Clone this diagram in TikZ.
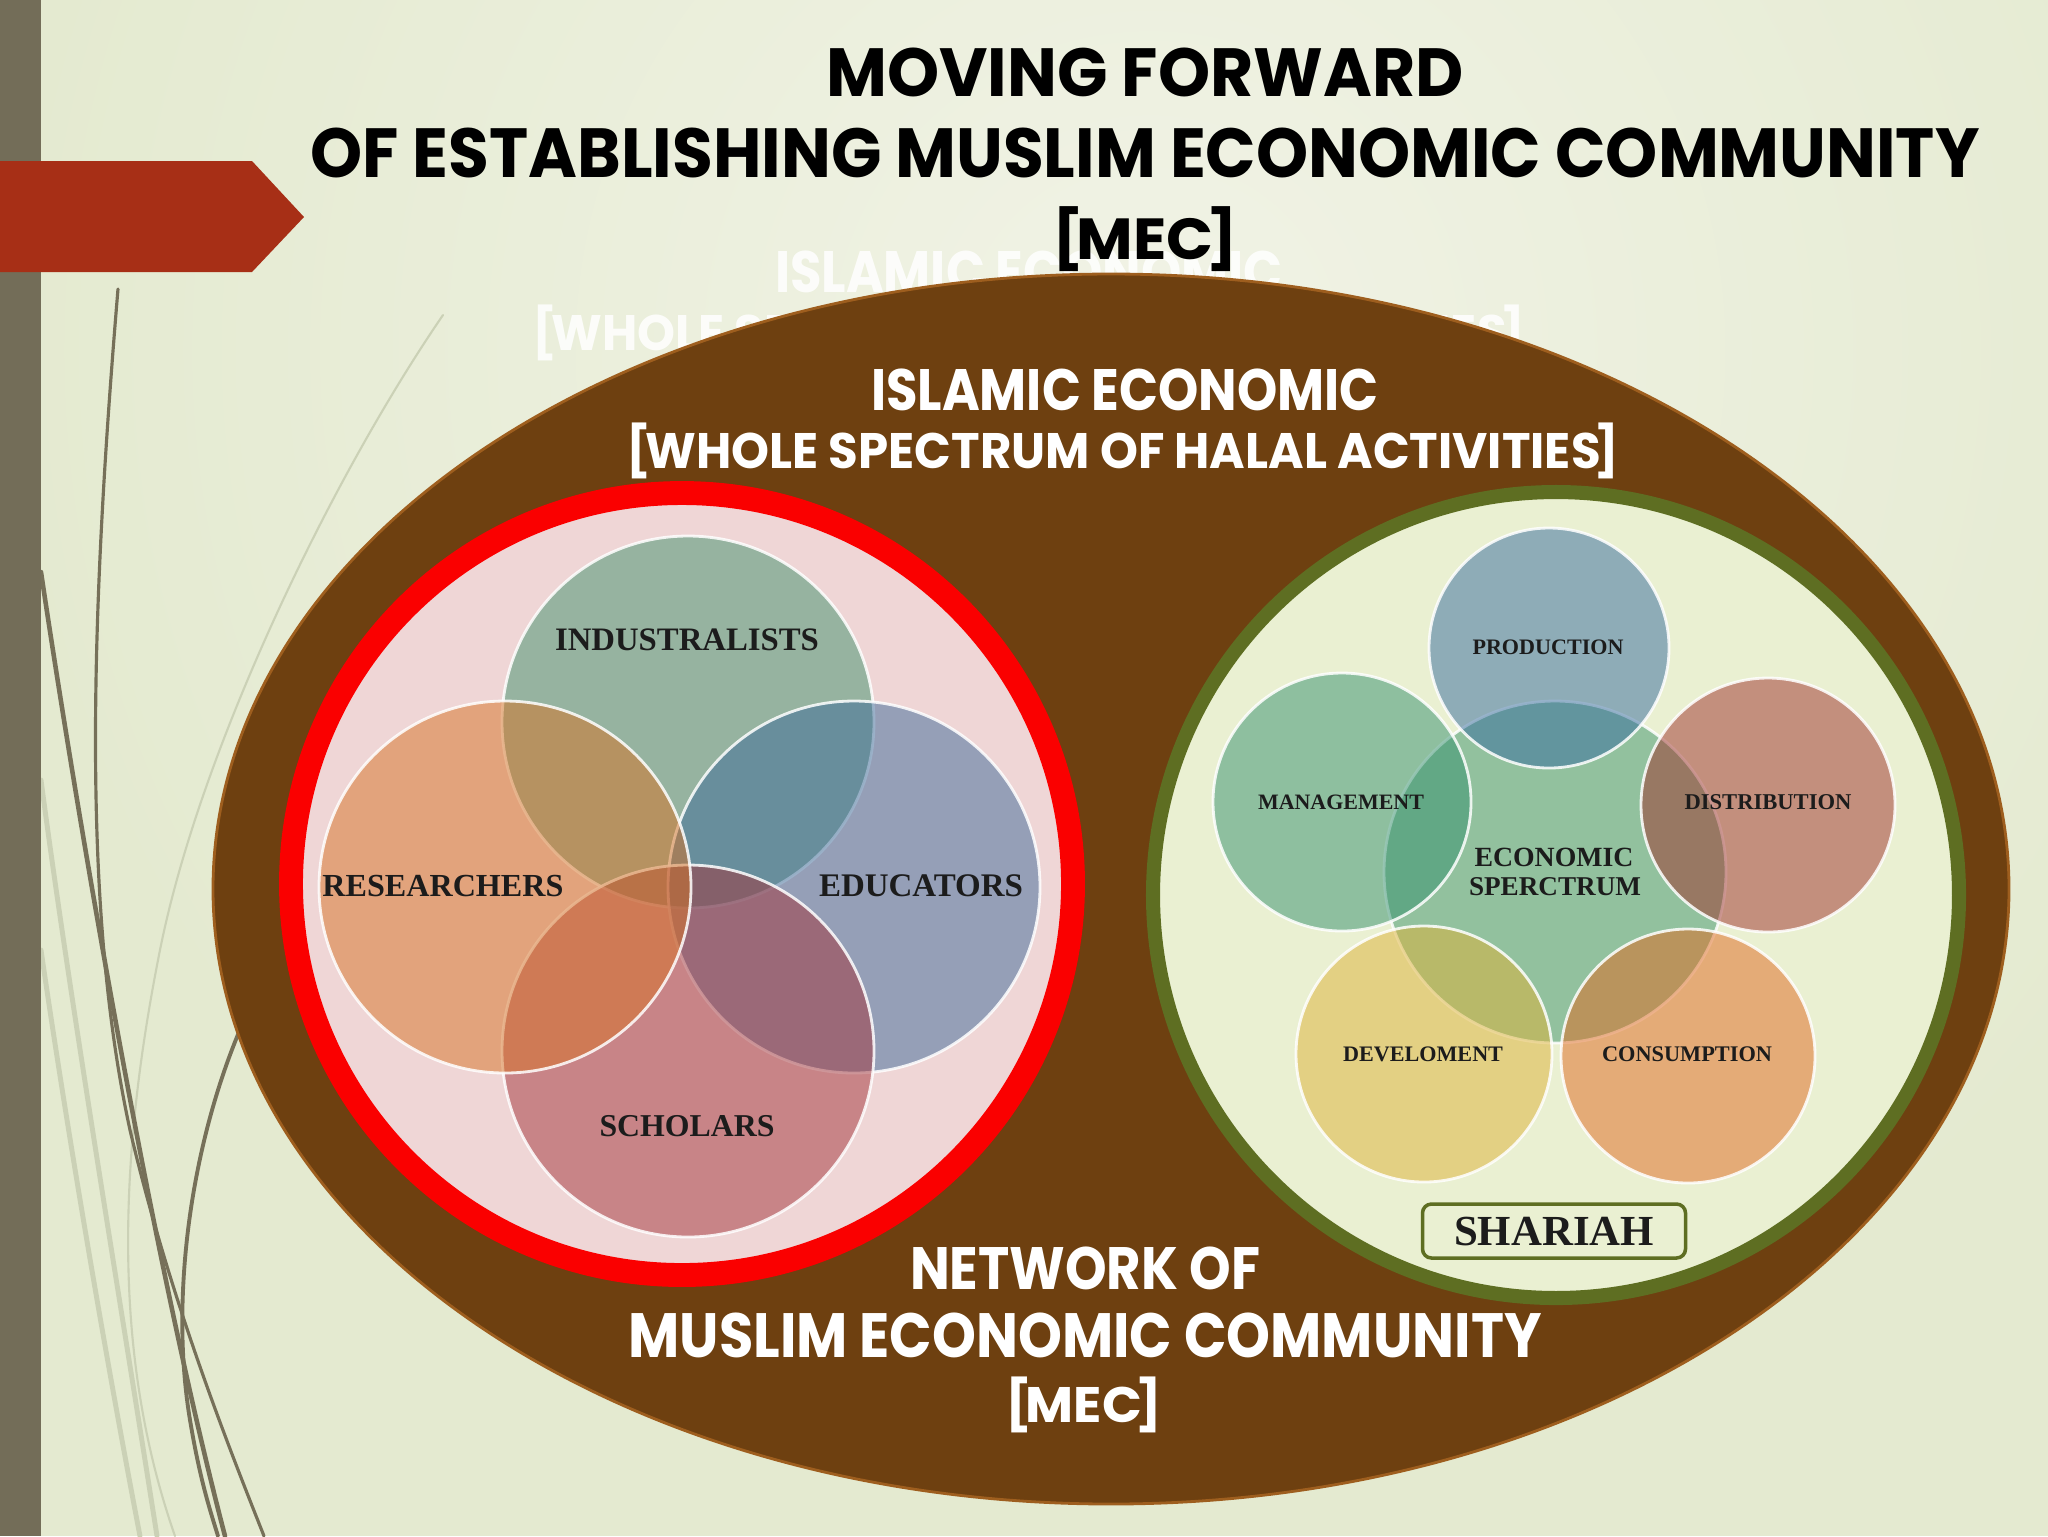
\documentclass[tikz,border=0pt]{standalone}
\usepackage{graphicx}
\usepackage{fontspec}
\setmainfont{Poppins}
\newfontfamily\serifb{Liberation Serif}
\newlength\pxu
\setlength\pxu{0.1mm}
\newcommand\fitwh[3]{\resizebox*{#1\pxu}{#2\pxu}{#3}}
\newcommand\fitw[2]{\resizebox{#1\pxu}{!}{#2}}
\newcommand\lb{[\kern-0.12em}
\newcommand\rb{\kern-0.12em]}
\definecolor{bg}{HTML}{E4EAD0}
\definecolor{bglight}{HTML}{F1F3E6}
\definecolor{barcol}{HTML}{736D58}
\definecolor{arrowred}{HTML}{A72F16}
\definecolor{dkline}{HTML}{767059}
\definecolor{paleline}{HTML}{CBD1B6}
\definecolor{brownE}{HTML}{6E4010}
\definecolor{brownEdge}{HTML}{9E5E1E}
\definecolor{ringred}{HTML}{FA0000}
\definecolor{pinkF}{HTML}{EFD6D6}
\definecolor{ringgreen}{HTML}{5E6E22}
\definecolor{creamF}{HTML}{EAF0D2}
\definecolor{labcol}{HTML}{1C1C1C}
\definecolor{indC}{HTML}{3E926C}
\definecolor{eduC}{HTML}{3C6A9A}
\definecolor{schC}{HTML}{A2343A}
\definecolor{resC}{HTML}{D67224}
\definecolor{cenC}{HTML}{3C946C}
\definecolor{proC}{HTML}{346A9E}
\definecolor{mgtC}{HTML}{34906E}
\definecolor{disC}{HTML}{9E302A}
\definecolor{devC}{HTML}{DEB236}
\definecolor{conC}{HTML}{E0681E}
\tikzset{
  dk/.style={draw=dkline, line cap=round},
  pale/.style={draw=paleline, line cap=round},
  bubble/.style={fill opacity=0.5, draw=white, draw opacity=0.85, line width=0.8pt},
  titletext/.style={inner sep=0pt, font=\bfseries, text=black},
  whitetext/.style={inner sep=0pt, font=\bfseries, text=white},
  ghosttext/.style={inner sep=0pt, font=\bfseries, text=white, text opacity=0.85},
  lab/.style={inner sep=0pt, font={\serifb\bfseries}, text=labcol},
}
\begin{document}
\begin{tikzpicture}[x=0.1mm,y=-0.1mm]
\useasboundingbox (0,0) rectangle (2048,1536);
% background
\fill[bg] (0,0) rectangle (2048,1536);
\shade[inner color=bglight, outer color=bg] (1150,350) circle[radius=1150];
% decorative lines
\draw[pale, line width=0.6pt] (443,315) .. controls (330,480) and (200,750) .. (160,950) .. controls (120,1150) and (110,1350) .. (175,1536);
\draw[pale, line width=1.4pt] (41,780) .. controls (70,1000) and (120,1300) .. (157,1536);
\draw[pale, line width=1.4pt] (41,950) .. controls (70,1150) and (110,1380) .. (140,1536);
\draw[dk, line width=0.9pt] (118,289) .. controls (92,600) and (80,900) .. (130,1130) .. controls (170,1300) and (230,1450) .. (264,1536);
\draw[dk, line width=1.3pt] (41,572) .. controls (75,800) and (150,1250) .. (225,1536);
\draw[dk, line width=1.1pt] (239,1032) .. controls (190,1150) and (170,1300) .. (190,1420) .. controls (200,1480) and (210,1510) .. (218,1536);
% left bar and red arrow
\fill[barcol] (0,0) rectangle (41,1536);
\fill[arrowred] (0,161) -- (252,161) -- (304,217) -- (252,272) -- (0,272) -- cycle;
% ghost text behind the ellipse
\node[ghosttext] (g1) at (1029,272) {\fitwh{508}{42}{ISLAMIC ECONOMIC}};
\node[ghosttext] (g2) at (1029,333) {\fitwh{993}{56}{\lb WHOLE SPECTRUM OF HALAL ACTIVITIES\rb}};
% big brown ellipse
\fill[brownE] (1111,889) ellipse[x radius=898, y radius=615];
\draw[brownEdge, line width=0.8pt] (1111,889) ellipse[x radius=898, y radius=615];
% left red ring
\fill[pinkF] (682,884) circle[radius=391];
\draw[ringred, line width=6.8pt] (682,884) circle[radius=391];
% Venn circles
\path[bubble, fill=indC] (688,722) circle[radius=186];
\path[bubble, fill=eduC] (854,887) circle[radius=186];
\path[bubble, fill=schC] (688,1051) circle[radius=186];
\path[bubble, fill=resC] (505,887) circle[radius=186];
% right green ring
\fill[creamF] (1556,895) circle[radius=403];
\draw[ringgreen, line width=4pt] (1556,895) circle[radius=403];
% economic spectrum circles
\path[bubble, fill=cenC] (1555,872) circle[radius=171];
\path[bubble, fill=proC] (1549,648) circle[radius=120];
\path[bubble, fill=mgtC] (1342,802) circle[radius=129];
\path[bubble, fill=disC] (1768,805) circle[radius=127];
\path[bubble, fill=devC] (1424,1054) circle[radius=128];
\path[bubble, fill=conC] (1688,1056) circle[radius=127];
% SHARIAH box
\node[draw=ringgreen, line width=1pt, fill=creamF, rounded corners=0.9mm, minimum width=26.3mm, minimum height=5.4mm, lab] (shariah) at (1554,1231) {\fitw{200}{SHARIAH}};
% Venn labels
\node[lab] (ind) at (687,640) {\fitw{264}{INDUSTRALISTS}};
\node[lab] (res) at (443,886) {\fitw{241}{RESEARCHERS}};
\node[lab] (edu) at (921,886) {\fitw{204}{EDUCATORS}};
\node[lab] (sch) at (687,1126) {\fitw{175}{SCHOLARS}};
% spectrum labels
\node[lab] (pro) at (1548,647) {\fitw{151}{PRODUCTION}};
\node[lab] (mgt) at (1341,802) {\fitw{166}{MANAGEMENT}};
\node[lab] (dis) at (1768,802) {\fitw{167}{DISTRIBUTION}};
\node[lab] (eco) at (1554,857) {\fitw{159}{ECONOMIC}};
\node[lab] (spe) at (1555,887) {\fitw{172}{SPERCTRUM}};
\node[lab] (dev) at (1423,1054) {\fitw{160}{DEVELOMENT}};
\node[lab] (con) at (1687,1054) {\fitw{170}{CONSUMPTION}};
% white texts in ellipse
\node[whitetext] (ie1) at (1125,390) {\fitwh{508}{42}{ISLAMIC ECONOMIC}};
\node[whitetext] (ie2) at (1123,451) {\fitwh{993}{56}{\lb WHOLE SPECTRUM OF HALAL ACTIVITIES\rb}};
\node[whitetext] (nw1) at (1085,1268) {\fitwh{350}{43}{NETWORK OF}};
\node[whitetext] (nw2) at (1085,1335) {\fitwh{913}{45}{MUSLIM ECONOMIC COMMUNITY}};
\node[whitetext] (nw3) at (1084,1405) {\fitwh{157}{56}{\lb MEC\rb}};
% title
\node[titletext] (t1) at (1145,72) {\fitwh{637}{49}{MOVING FORWARD}};
\node[titletext] (t2) at (1145,153) {\fitwh{1669}{50}{OF ESTABLISHING MUSLIM ECONOMIC COMMUNITY}};
\node[titletext] (t3) at (1145,239) {\fitwh{185}{65}{\lb MEC\rb}};
\end{tikzpicture}
\end{document}
